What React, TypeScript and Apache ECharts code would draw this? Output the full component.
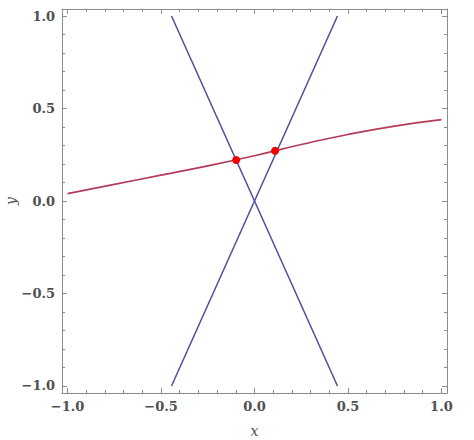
import React, { useEffect, useRef } from "react";
import * as echarts from "echarts";

// data
const majorTicks = [-1, -0.5, 0, 0.5, 1];
const minorTicks = [
  -0.9, -0.8, -0.7, -0.6, -0.4, -0.3, -0.2, -0.1,
  0.1, 0.2, 0.3, 0.4, 0.6, 0.7, 0.8, 0.9,
];
const lineFalling = [
  [-0.444, 1],
  [0.444, -1],
];
const lineRising = [
  [-0.444, -1],
  [0.444, 1],
];
const curveX = [-1, -0.75, -0.5, -0.25, 0, 0.25, 0.5, 0.75, 1];
const curveY = [0.04, 0.09, 0.14, 0.19, 0.245, 0.305, 0.36, 0.405, 0.44];
const crossPoints = [
  [-0.098, 0.222],
  [0.11, 0.272],
];

const frameColor = "#8c8c8c";
const labelColor = "#505050";
const serif = "DejaVu Serif";

const fmt = (v: number) => (v < 0 ? "\u2212" : "") + Math.abs(v).toFixed(1);

const App: React.FC = () => {
  const chartRef = useRef<HTMLDivElement>(null);

  useEffect(() => {
    if (!chartRef.current) return;
    const chart = echarts.init(chartRef.current, undefined, { renderer: "svg" });

    const xRange = { min: -1.03, max: 1.03 };
    const yRange = { min: -1.038, max: 1.038 };

    const tickAxis = (pos: string, major: boolean, labels: boolean, range: any, extra: any = {}) => ({
      type: "value",
      position: pos,
      ...range,
      axisLine: { show: major, onZero: false, lineStyle: { color: frameColor, width: 1 } },
      axisTick: {
        show: true,
        inside: true,
        length: major ? 5 : 3,
        customValues: major ? majorTicks : minorTicks,
        lineStyle: { color: frameColor, width: 1 },
      },
      axisLabel: labels
        ? {
            show: true,
            customValues: majorTicks,
            formatter: fmt,
            color: labelColor,
            fontFamily: serif,
            fontSize: 13,
            fontWeight: "bold",
            margin: 7,
          }
        : { show: false },
      splitLine: { show: false },
      ...extra,
    });

    const nameStyle = {
      color: labelColor,
      fontFamily: serif,
      fontStyle: "italic",
      fontSize: 14,
    };

    const option: any = {
      animation: false,
      grid: {
        left: 62,
        right: 27,
        top: 9,
        bottom: 47,
        containLabel: false,
        outerBoundsMode: "none",
      },
      xAxis: [
        tickAxis("bottom", true, true, xRange, {
          name: "x",
          nameLocation: "middle",
          nameGap: 31,
          nameTextStyle: nameStyle,
        }),
        tickAxis("bottom", false, false, xRange),
        tickAxis("top", true, false, xRange),
        tickAxis("top", false, false, xRange),
      ],
      yAxis: [
        tickAxis("left", true, true, yRange, {
          name: "y",
          nameLocation: "middle",
          nameGap: 44,
          nameMoveOverlap: false,
          nameTextStyle: nameStyle,
        }),
        tickAxis("left", false, false, yRange),
        tickAxis("right", true, false, yRange),
        tickAxis("right", false, false, yRange),
      ],
      series: [
        {
          type: "line",
          data: lineFalling,
          showSymbol: false,
          lineStyle: { color: "#4a4f9c", width: 1.5 },
        },
        {
          type: "line",
          data: lineRising,
          showSymbol: false,
          lineStyle: { color: "#4a4f9c", width: 1.5 },
        },
        {
          type: "line",
          data: curveX.map((x, i) => [x, curveY[i]]),
          smooth: true,
          showSymbol: false,
          lineStyle: { color: "#b43a58", width: 1.6 },
        },
        {
          type: "scatter",
          data: crossPoints,
          symbolSize: 8,
          z: 5,
          itemStyle: { color: "#f00000", opacity: 1 },
        },
      ],
    };

    chart.setOption(option);

    const handleResize = () => chart.resize();
    window.addEventListener("resize", handleResize);
    return () => {
      window.removeEventListener("resize", handleResize);
      chart.dispose();
    };
  }, []);

  return (
    <div
      ref={chartRef}
      style={{ position: "fixed", left: 0, top: 0, width: "474px", height: "440px", background: "#fff" }}
    />
  );
};

export default App;
